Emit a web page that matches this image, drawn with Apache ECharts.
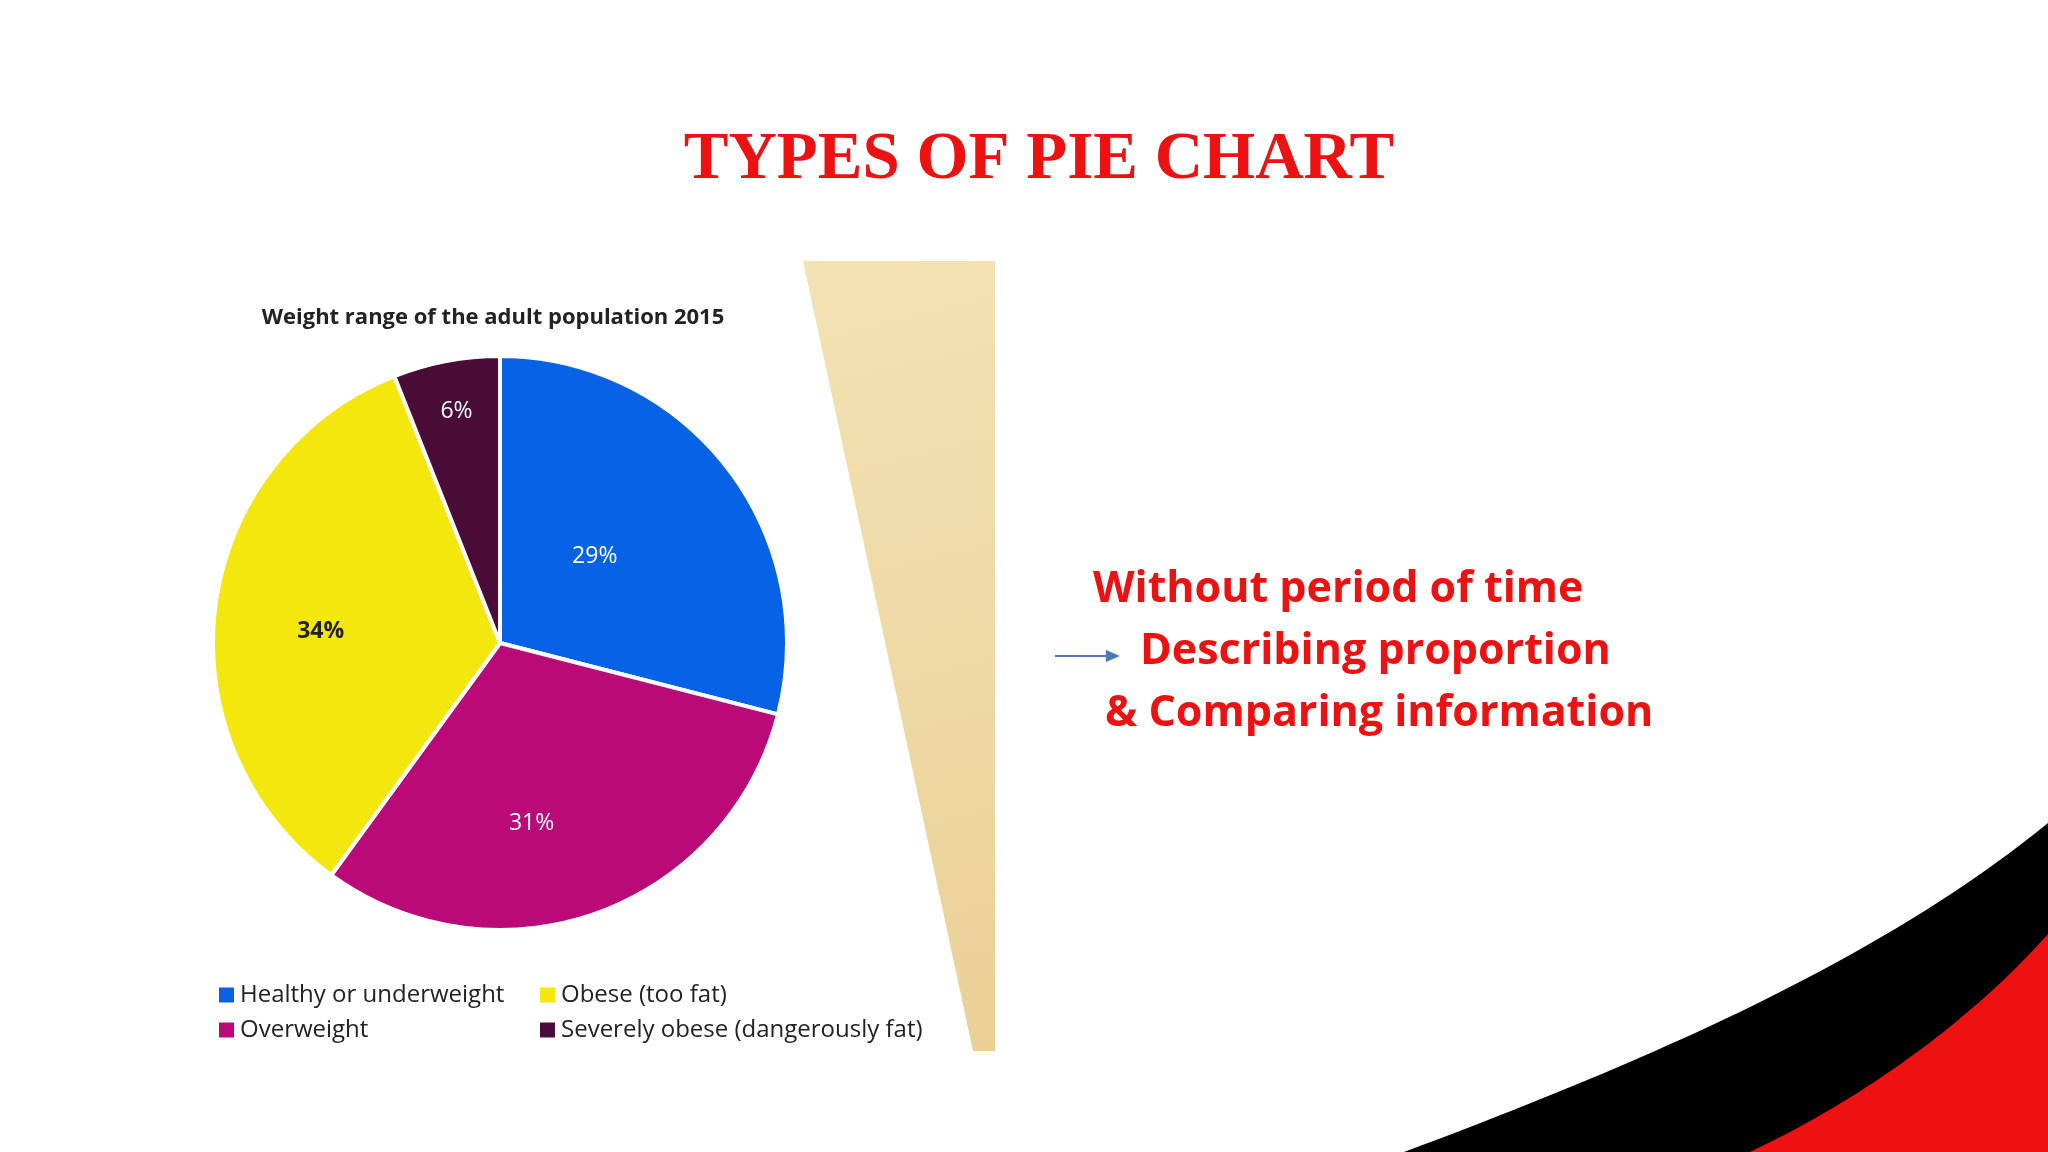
<!DOCTYPE html>
<html><head><meta charset="utf-8">
<script src="https://cdn.jsdelivr.net/npm/echarts@6/dist/echarts.min.js"></script>
<style>html,body{margin:0;padding:0;background:#fff}#c{width:2048px;height:1152px}</style>
</head><body><div id="c"></div>
<script>
const categories = ['Healthy or underweight','Overweight','Obese (too fat)','Severely obese (dangerously fat)'];
const values = [29,31,34,6];
const colors = ['#0862e6','#b90a78','#f3e70e','#4a0d38'];
const labelColors = ['#fff','#fff','#222','#fff'];
const labelOffsets = [[-21,3],[-18,43],[-34,7],[-16,-88]];
function bez(p0,p1,p2,p3,close){
  const pts=[];
  for(let i=0;i<=40;i++){const t=i/40,u=1-t;
    pts.push([u*u*u*p0[0]+3*u*u*t*p1[0]+3*u*t*t*p2[0]+t*t*t*p3[0],u*u*u*p0[1]+3*u*u*t*p1[1]+3*u*t*t*p2[1]+t*t*t*p3[1]]);}
  return pts.concat(close);
}
const chart = echarts.init(document.getElementById('c'));
chart.setOption({
  backgroundColor:'#fff',
  title:[
    {text:'TYPES OF PIE CHART',left:1034,textAlign:'center',top:122,textStyle:{fontFamily:'Liberation Serif',fontWeight:'bold',fontSize:67,color:'#ee1111'}},
    {text:'Weight range of the adult population 2015',left:488,top:302,textAlign:'center',textStyle:{fontFamily:'Open Sans',fontWeight:'bold',fontSize:22,color:'#222'}}
  ],
  legend:[
    {data:categories.slice(0,2),orient:'vertical',left:212,top:978,itemWidth:17,itemHeight:17,itemGap:11,icon:'rect',textStyle:{fontFamily:'Open Sans',fontSize:24,color:'#222'}},
    {data:categories.slice(2),orient:'vertical',left:533,top:978,itemWidth:17,itemHeight:17,itemGap:11,icon:'rect',textStyle:{fontFamily:'Open Sans',fontSize:24,color:'#222'}}
  ],
  graphic:[
    {type:'polygon',z:-1,shape:{points:[[803,261],[995,261],[995,1051],[973,1051]]},style:{fill:new echarts.graphic.LinearGradient(0,0,1,1,[{offset:0,color:'#f3e2b4'},{offset:1,color:'#ead096'}])}},
    {type:'polygon',shape:{points:bez([1404,1152],[1650,1060],[1880,960],[2048,823],[[2048,1152]])},style:{fill:'#000'}},
    {type:'polygon',shape:{points:bez([1750,1152],[1880,1090],[1980,1010],[2048,934],[[2048,1152]])},style:{fill:'#ee1111'}},
    {type:'text',left:1093,top:568,style:{text:'Without period of time',font:'bold 43px "Open Sans"',fill:'#ee1111'}},
    {type:'text',left:1140,top:630,style:{text:'Describing proportion',font:'bold 43px "Open Sans"',fill:'#ee1111'}},
    {type:'text',left:1105,top:692,style:{text:'& Comparing information',font:'bold 43px "Open Sans"',fill:'#ee1111'}},
    {type:'line',shape:{x1:1055,y1:656,x2:1110,y2:656},style:{stroke:'#4a78b8',lineWidth:2}},
    {type:'polygon',shape:{points:[[1106,650],[1120,656],[1106,662]]},style:{fill:'#4a78b8'}}
  ],
  series:[{
    type:'pie',center:[500,643],radius:287,startAngle:90,clockwise:true,
    itemStyle:{borderColor:'#fff',borderWidth:4},
    label:{position:'inside',formatter:'{c}%',fontFamily:'Open Sans',fontSize:23},
    labelLine:{show:false},
    data:categories.map((n,i)=>({name:n,value:values[i],itemStyle:{color:colors[i]},label:{color:labelColors[i],offset:labelOffsets[i],fontWeight:i==2?'bold':'normal'}}))
  }]
});
</script></body></html>
